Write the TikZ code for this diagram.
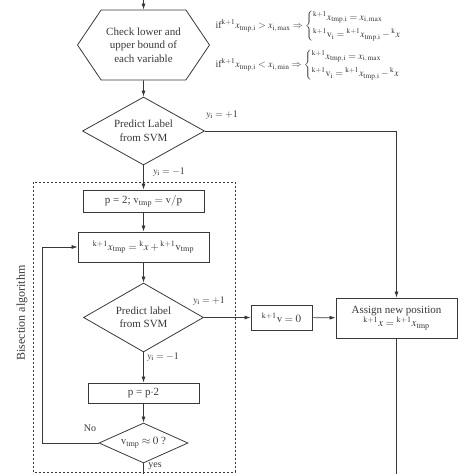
\documentclass[tikz,border=0pt]{standalone}
\usepackage{amsmath}
\usepackage{mathptmx}
\usepackage{fontspec}
\setmainfont{Liberation Serif}
\usetikzlibrary{positioning, shapes.geometric, shapes.symbols, arrows.meta}
\colorlet{ink}{black!78}
\tikzset{
every node/.style={font=\fontsize{11}{13.5}\selectfont, text=ink},
block/.style={draw=ink, rectangle, line width=0.8pt, inner sep=0pt, align=center},
decision/.style={draw=ink, diamond, line width=0.8pt, inner sep=0pt, align=center},
bound/.style={draw=ink, signal, signal to=west and east, signal pointer angle=112, line width=0.8pt, inner sep=0pt, align=center},
link/.style={draw=ink, line width=0.7pt, -{Latex[length=6pt,width=4pt]}},
lbl/.style={font=\fontsize{10}{12}\selectfont},
bisect/.style={draw=ink, line width=0.8pt, dash pattern=on 2pt off 2pt},
}

\begin{document}
\begin{tikzpicture}[x=1pt, y=-1pt]
    \useasboundingbox (0,0) rectangle (474,474);
    \clip (0,0) rectangle (474,474);

    %main column at x=143.5
    \coordinate (start) at (143.5,-5);
    \node[bound, minimum width=132, minimum height=70] (check) at (143.5,45) {Check lower and\\upper bound of\\each variable};
    \node[decision, aspect=1.8, minimum width=122, minimum height=68] (svm1) at (143.5,131) {Predict Label\\from SVM};
    \node[block, minimum width=121, minimum height=22] (init) at (143.5,201) {p = 2; $\mathrm{v}_{\mathrm{tmp}} = \mathrm{v}/\mathrm{p}$};
    \node[block, minimum width=131, minimum height=30] (update) at (143.5,247) {${}^{\mathrm{k+1}}x_{\mathrm{tmp}} = {}^{\mathrm{k}}x + {}^{\mathrm{k+1}}\mathrm{v}_{\mathrm{tmp}}$};
    \node[decision, aspect=1.8, minimum width=120, minimum height=69] (svm2) at (143.5,317.5) {Predict label\\from SVM};
    \node[block, minimum width=111, minimum height=20] (halve) at (143.5,393) {p = p$\cdot$2};
    \node[decision, aspect=2.2, minimum width=89, minimum height=40] (zero) at (143.5,443) {$\mathrm{v}_{\mathrm{tmp}} \approx 0$ ?};
    \coordinate (end1) at (143.5,490);

    %right column
    \node[block, minimum width=61, minimum height=25] (reset) at (281.5,317.5) {${}^{\mathrm{k+1}}\mathrm{v} = 0$};
    \node[block, minimum width=121, minimum height=40] (assign) at (396.5,318) {Assign new position\\${}^{\mathrm{k+1}}x = {}^{\mathrm{k+1}}x_{\mathrm{tmp}}$};
    \coordinate (end2) at (396.5,481);

    %bound rules
    \node[lbl, anchor=west] (rmax) at (212,26) {if${}^{\mathrm{k+1}}x_{\mathrm{tmp,i}} > x_{\mathrm{i,\,max}} \Rightarrow \begin{cases} {}^{\mathrm{k+1}}x_{\mathrm{tmp,i}} = x_{\mathrm{i,\,max}}\\[3pt] {}^{\mathrm{k+1}}\mathrm{v}_{\mathrm{i}} = {}^{\mathrm{k+1}}x_{\mathrm{tmp,i}} - {}^{\mathrm{k}}x \end{cases}$};
    \node[lbl, anchor=west] (rmin) at (212,65) {if${}^{\mathrm{k+1}}x_{\mathrm{tmp,i}} < x_{\mathrm{i,\,min}} \Rightarrow \begin{cases} {}^{\mathrm{k+1}}x_{\mathrm{tmp,i}} = x_{\mathrm{i,\,max}}\\[3pt] {}^{\mathrm{k+1}}\mathrm{v}_{\mathrm{i}} = {}^{\mathrm{k+1}}x_{\mathrm{tmp,i}} - {}^{\mathrm{k}}x \end{cases}$};

    %arrows
    \draw[link] (start) -- (check);
    \draw[link] (check) -- (svm1);
    \draw[link] (svm1) -- (init);
    \draw[link] (svm1.east) -| (assign.north);
    \draw[link] (init) -- (update);
    \draw[link] (update) -- (svm2);
    \draw[link] (svm2) -- (halve);
    \draw[link] (svm2.east) -- (reset.west);
    \draw[link] (reset) -- (assign);
    \draw[link] (halve) -- (zero);
    \draw[link] (zero) -- (end1);
    \draw[link] (zero.west) -- ++(-56,0) |- (update.west);
    \draw[link] (assign) -- (end2);

    %branch labels
    \node[lbl] (p1) at (222,115) {$y_{\mathrm{i}} = +1$};
    \node[lbl] (m1) at (169,172) {$y_{\mathrm{i}} = -1$};
    \node[lbl] (p2) at (209,301) {$y_{\mathrm{i}} = +1$};
    \node[lbl] (m2) at (163,357) {$y_{\mathrm{i}} = -1$};
    \node[lbl] (no) at (90,428) {No};
    \node[lbl] (yes) at (155,466) {yes};

    %bisection frame
    \draw[bisect] (33,182) rectangle (235,472);
    \node[rotate=90, font=\fontsize{12}{14}\selectfont] (bislbl) at (22,313) {Bisection algorithm};
\end{tikzpicture}
\end{document}
